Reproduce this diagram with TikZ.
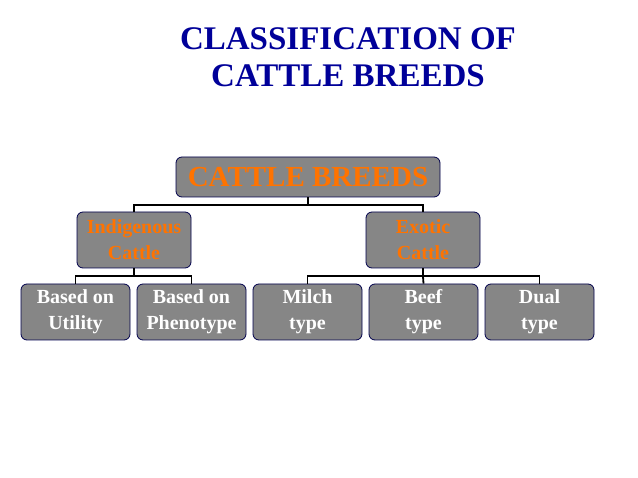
\documentclass[tikz,border=0pt]{standalone}
\usepackage{fontspec}
\setmainfont{Liberation Serif}
\begin{document}
\begin{tikzpicture}[x=1pt,y=-1pt,
  box/.style={draw=blue!30!black,line width=0.8pt,fill=gray!95!white,rounded corners=6pt,inner sep=0pt,align=center,font=\bfseries},
  lbl/.style={text=white,font=\fontsize{20}{26}\selectfont\bfseries},
  orng/.style={text=orange!90!red},
  wire/.style={line width=1.8pt}]
\useasboundingbox (0,0) rectangle (638,478);
\node[text=blue!60!black,align=center,font=\fontsize{33}{37}\selectfont\bfseries] (title) at (348,57) {CLASSIFICATION OF\\CATTLE BREEDS};
\node[box,minimum width=264pt,minimum height=40pt,orng,font=\fontsize{29}{30}\selectfont\bfseries] (top) at (308,177) {CATTLE BREEDS};
\node[box,minimum width=114pt,minimum height=56pt,orng,font=\fontsize{20}{26}\selectfont\bfseries] (ind) at (134,240) {Indigenous\\Cattle};
\node[box,minimum width=114pt,minimum height=56pt,orng,font=\fontsize{20}{26}\selectfont\bfseries] (exo) at (423,240) {Exotic\\Cattle};
\foreach \n/\x/\t in {b1/75.5/{Based on\\Utility},b2/191.5/{Based on\\Phenotype},b3/307.5/{Milch\\type},b4/423.5/{Beef\\type},b5/539.5/{Dual\\type}}
  \node[box,lbl,minimum width=109pt,minimum height=56pt] (\n) at (\x,312) {\t};
\draw[wire] (top.south) -- ++(0,8) coordinate (j1);
\draw[wire] (ind.north) |- (j1) -| (exo.north);
\draw[wire] (ind.south) -- ++(0,8) coordinate (j2);
\draw[wire] (b1.north) |- (j2) -| (b2.north);
\draw[wire] (exo.south) -- ++(0,8) coordinate (j3);
\draw[wire] (b3.north) |- (j3) -| (b5.north);
\draw[wire] (j3) -- (b4.north);
\end{tikzpicture}
\end{document}
